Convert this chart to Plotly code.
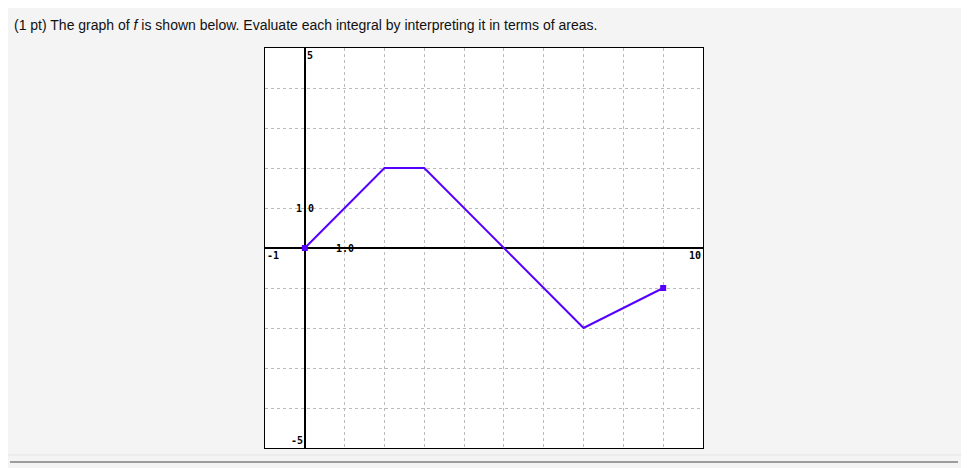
import plotly.graph_objects as go

xs = [0, 2, 3, 7, 9]
ys = [0, 2, 2, -2, -1]
x_range = [-1, 10]
y_range = [-5, 5]

W, H = 969, 468
# plot box in figure coords (page has 8px body offset)
L, R, T, B = 257, 695, 40, 440
PW, PH = R - L, B - T
px = lambda v: (v - L) / PW
py = lambda v: (B - v) / PH

fig = go.Figure()
fig.add_trace(go.Scatter(x=xs, y=ys, mode="lines", line=dict(color="#5500ff", width=2), hoverinfo="skip"))
fig.add_trace(go.Scatter(x=[xs[0], xs[-1]], y=[ys[0], ys[-1]], mode="markers",
                         marker=dict(color="#5500ff", size=6, symbol="square"), hoverinfo="skip"))

ax = dict(showgrid=True, gridcolor="#bbbbbb", griddash="3px,3px", gridwidth=1, dtick=1,
          showticklabels=False, zeroline=True, zerolinecolor="black", zerolinewidth=1.5,
          showline=True, linecolor="black", linewidth=1, mirror=True, fixedrange=True)
fig.update_xaxes(range=x_range, **ax)
fig.update_yaxes(range=y_range, **ax)

mono = dict(family="DejaVu Sans Mono", size=10, color="black")
anns = [
    dict(x=0, y=5, text="<b>5</b>", xanchor="left", yanchor="top"),
    dict(x=0, y=-5, text="<b>-5</b>", xanchor="right", yanchor="bottom"),
    dict(x=-1, y=0, text="<b>-1</b>", xanchor="left", yanchor="top"),
    dict(x=10, y=0, text="<b>10</b>", xanchor="right", yanchor="top"),
    dict(x=0, y=1, text="<b>1.0</b>", xanchor="center", yanchor="middle"),
    dict(x=1, y=0, text="<b>1.0</b>", xanchor="center", yanchor="middle"),
]
for a in anns:
    fig.add_annotation(xref="x", yref="y", showarrow=False, font=mono, **a)

fig.add_annotation(xref="paper", yref="paper", x=px(4), y=py(17),
                   xanchor="left", yanchor="middle", showarrow=False,
                   text="(1 pt) The graph of <i>f</i> is shown below. Evaluate each integral by interpreting it in terms of areas.",
                   font=dict(family="Liberation Sans", size=14, color="#111111"))

fig.add_shape(type="rect", xref="paper", yref="paper", x0=px(-4), x1=px(957),
              y0=py(447), y1=py(-4), line=dict(color="#e4e4e4", width=1), layer="below")
fig.add_shape(type="line", xref="paper", yref="paper", x0=px(2), x1=px(950),
              y0=py(454), y1=py(454), line=dict(color="#444444", width=1))

fig.update_layout(width=W, height=H, margin=dict(l=L, r=W - R, t=T, b=H - B),
                  paper_bgcolor="#f4f4f4", plot_bgcolor="white", showlegend=False)
fig.write_html("out.html")
